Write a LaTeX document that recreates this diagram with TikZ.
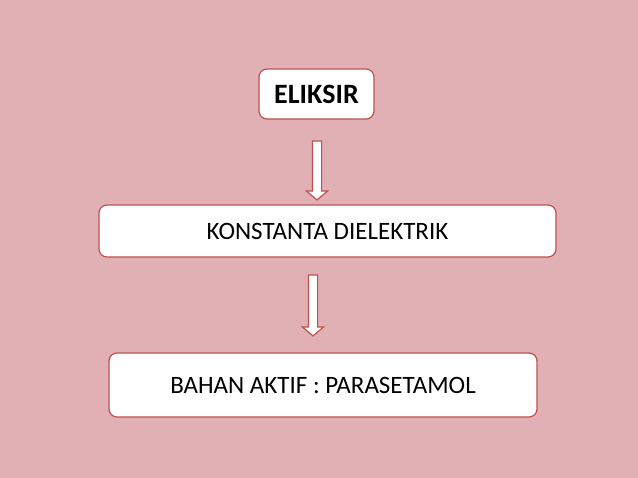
\documentclass[tikz,border=0pt]{standalone}
\usepackage{fontspec}
\setmainfont{Carlito}
\usetikzlibrary{shapes.arrows}
\definecolor{BG}{RGB}{224, 176, 181}
\definecolor{R}{RGB}{192, 80, 77}

\tikzset{
  kotak/.style={draw=R, line width=1.2pt, fill=white, rounded corners=8pt,
    inner sep=0pt, font=\fontsize{25}{30}\selectfont},
  panah/.style={single arrow, draw=R, line width=1.2pt, fill=white,
    inner sep=4pt, single arrow head extend=6pt, single arrow tip angle=100,
    shape border rotate=270}
}

\begin{document}
\begin{tikzpicture}[x=1pt, y=-1pt]
  %# LATAR
  \fill[BG] (0,0) rectangle (638,478);

  %# KOTAK
  \node[kotak, minimum width=115pt, minimum height=50pt, font=\fontsize{28}{32}\selectfont\bfseries] (eliksir) at (316.5,94) {ELIKSIR};
  \node[kotak, minimum width=457pt, minimum height=52pt] (konstanta) at (327.5,231) {KONSTANTA DIELEKTRIK};
  \node[kotak, minimum width=428pt, minimum height=64pt] (bahan) at (323,385) {BAHAN AKTIF : PARASETAMOL};

  %# PANAH
  \node[panah, minimum height=59pt, minimum width=20pt] (panah1) at (317,168.5) {};
  \node[panah, minimum height=61pt, minimum width=20pt] (panah2) at (313,303.5) {};
\end{tikzpicture}
\end{document}
